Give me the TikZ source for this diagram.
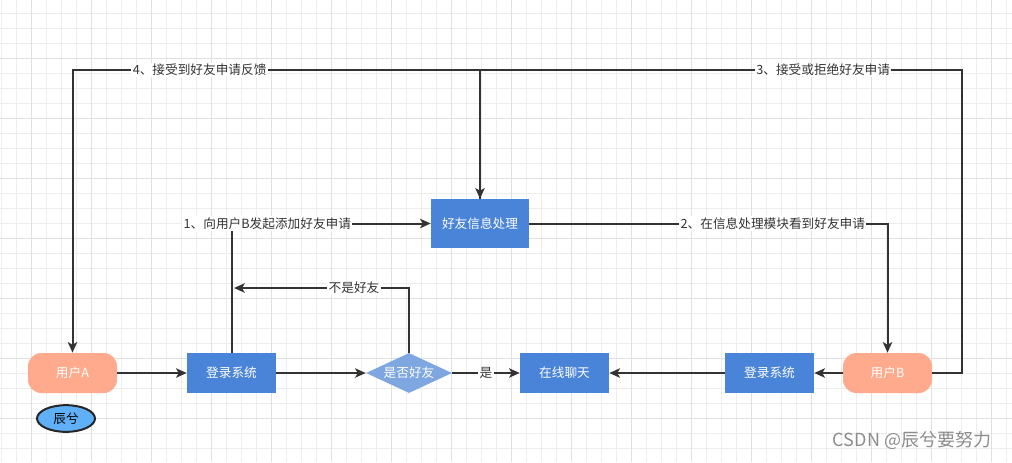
\documentclass[tikz,border=0pt]{standalone}
\usepackage{fontspec}
\setmainfont{Noto Sans CJK SC}
\usetikzlibrary{arrows.meta,shapes.geometric}
\definecolor{boxblue}{HTML}{4A84D9}
\definecolor{diablue}{HTML}{7EA6E0}
\definecolor{pill}{HTML}{FFAA8D}
\definecolor{tagblue}{HTML}{60B0F8}
\definecolor{linec}{HTML}{333333}

\begin{document}
\begin{tikzpicture}[x=0.75pt, y=-0.75pt,
    font=\fontsize{9.5pt}{11pt}\selectfont,
    gridminor/.style={color=black!7, line width=0.75pt},
    gridmajor/.style={color=black!12, line width=0.75pt},
    box/.style={fill=boxblue, text=white, minimum width=66.75pt, minimum height=30pt, inner sep=0pt},
    user/.style={fill=pill, text=white, rounded corners=10pt, minimum width=66.75pt, minimum height=30pt, inner sep=0pt},
    edge/.style={color=linec, line width=1.5pt, -{Stealth[length=8pt,width=7pt,inset=2pt]}},
    lbl/.style={fill=white, text=linec, inner sep=1pt}]
    \useasboundingbox (0,0) rectangle (1012,462);

    % 画网格
    \foreach \x in {1,16,...,1011} \draw[gridminor] (\x,0) -- (\x,462);
    \foreach \y in {13.3,28.3,...,462} \draw[gridminor] (0,\y) -- (1012,\y);
    \foreach \x in {31,91,...,1011} \draw[gridmajor] (\x,0) -- (\x,462);
    \foreach \y in {58.3,118.3,...,462} \draw[gridmajor] (0,\y) -- (1012,\y);

    % 各个节点
    \node[user] (userA) at (72.5,373) {用户A};
    \node[box] (loginA) at (231.5,373) {登录系统};
    \node[diamond, fill=diablue, text=white, aspect=2.15, inner sep=0pt,
          minimum width=64.5pt, minimum height=30pt] (isfriend) at (409,373) {是否好友};
    \node[box] (chat) at (564.5,373) {在线聊天};
    \node[box] (loginB) at (769.5,373) {登录系统};
    \node[user] (userB) at (887.5,373) {用户B};
    \node[box, minimum width=73.5pt, minimum height=36.75pt] (info) at (480,223.5) {好友信息处理};
    \node[ellipse, fill=tagblue, draw=black!85, line width=1.5pt, inner sep=0pt,
          minimum width=43.5pt, minimum height=20pt] (tag) at (66,418.5) {辰兮};

    % 水印
    \node[text=black!45, font=\fontsize{13.5pt}{15pt}\selectfont] (mark) at (912,440) {CSDN @辰兮要努力};

    % 辅助坐标
    \coordinate (rt) at (962,70);
    \coordinate (nf) at (234,288);

    % 主流程
    \draw[edge] (userA) -- (loginA);
    \draw[edge] (loginA) -- (isfriend);
    \draw[edge] (isfriend) -- node[lbl] {是} (chat);
    \draw[edge] (loginB) -- (chat);
    \draw[edge] (userB) -- (loginB);

    % 好友申请
    \draw[edge] (loginA.north) |- node[lbl, pos=0.59] {1、向用户B发起添加好友申请} (info.west);
    \draw[edge] (isfriend.north) |- node[lbl, pos=0.657] {不是好友} (nf);
    \draw[edge] (info.east) -| node[lbl, pos=0.34] {2、在信息处理模块看到好友申请} (userB.north);
    \draw[edge] (userB.east) -| (rt) -- node[lbl, pos=0.288] {3、接受或拒绝好友申请} (info.north |- rt) -- (info.north);
    \draw[edge] (info.north) -- (info.north |- rt) -| node[lbl, pos=0.344] {4、接受到好友申请反馈} (userA.north);
\end{tikzpicture}
\end{document}
